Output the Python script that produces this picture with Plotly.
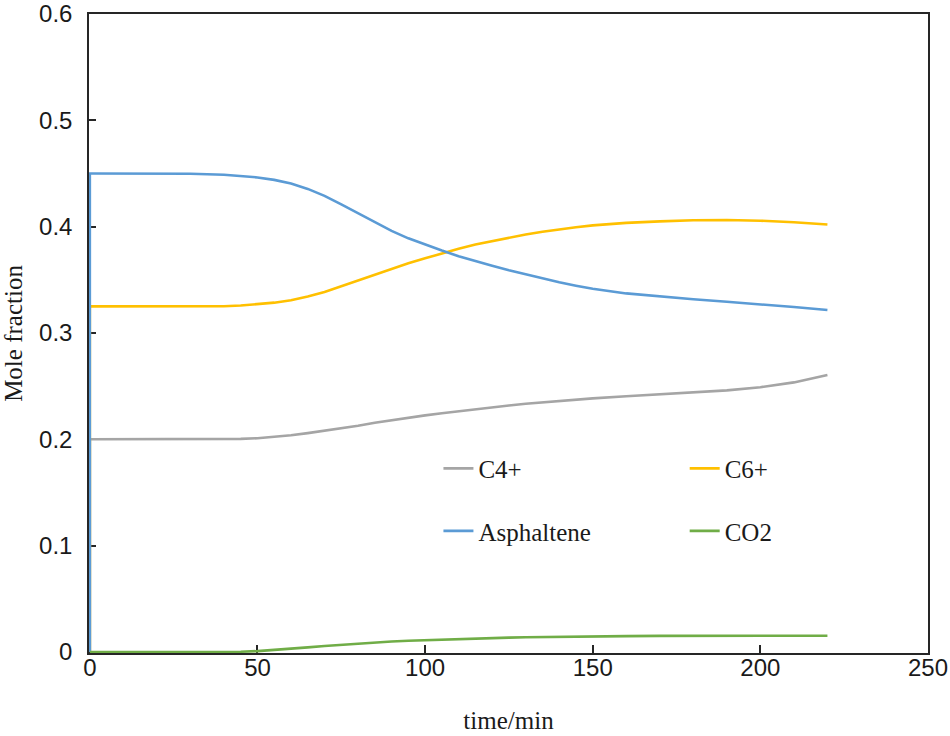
import plotly.graph_objects as go

time = [0, 0, 0.5, 10, 20, 30, 40, 45, 50, 55, 60, 65, 70, 75, 80, 85, 90, 95, 100, 105,
        110, 115, 120, 125, 130, 135, 140, 145, 150, 160, 170, 180, 190, 200, 210, 220]
c4 = [0, 0.200, 0.200, 0.200, 0.200, 0.200, 0.200, 0.2004, 0.201, 0.2022, 0.2038, 0.2058,
      0.208, 0.2105, 0.2128, 0.2155, 0.218, 0.2205, 0.2225, 0.2245, 0.2265, 0.2285,
      0.2302, 0.2318, 0.2335, 0.2348, 0.236, 0.2373, 0.2385, 0.2405, 0.2422, 0.2437,
      0.246, 0.249, 0.2535, 0.2605]
c6 = [0, 0.325, 0.325, 0.325, 0.325, 0.325, 0.3252, 0.3258, 0.3268, 0.3285, 0.3308, 0.3342,
      0.3385, 0.3440, 0.3495, 0.3550, 0.3603, 0.3655, 0.3702, 0.3748, 0.3792, 0.3832,
      0.3866, 0.3898, 0.3927, 0.3952, 0.3975, 0.3995, 0.4012, 0.4035, 0.4050, 0.4060,
      0.4062, 0.4056, 0.4041, 0.4020]
asph = [0, 0.450, 0.450, 0.450, 0.450, 0.4498, 0.4488, 0.4478, 0.4463, 0.4440, 0.4405, 0.4355,
        0.4290, 0.4210, 0.4125, 0.4040, 0.3960, 0.3890, 0.3830, 0.3775, 0.3722, 0.3675,
        0.3632, 0.3590, 0.3550, 0.3512, 0.3477, 0.3445, 0.3416, 0.3372, 0.3342, 0.3317,
        0.3293, 0.3270, 0.3244, 0.3216]
co2 = [0, 0, 0, 0, 0, 0, 0, 0.0002, 0.0008, 0.0018, 0.003, 0.0043, 0.0056, 0.0068, 0.0079,
       0.0089, 0.0098, 0.0105, 0.0111, 0.0117, 0.0122, 0.0127, 0.0131, 0.0135, 0.0138,
       0.0141, 0.0143, 0.0145, 0.0147, 0.0149, 0.0151, 0.0152, 0.0152, 0.0152, 0.0152,
       0.0152]

series = [
    ("C4+", c4, "#A5A5A5", "legend"),
    ("C6+", c6, "#FFC000", "legend2"),
    ("Asphaltene", asph, "#5B9BD5", "legend"),
    ("CO2", co2, "#70AD47", "legend2"),
]

fig = go.Figure()
for name, ys, col, lg in series:
    fig.add_trace(go.Scatter(x=time, y=ys, mode="lines", name=name,
                             line=dict(color=col, width=2.6),
                             legend=lg, legendgroup=name))

axis_common = dict(showgrid=False, zeroline=False, showline=True, mirror=True,
                   linecolor="#262626", linewidth=1.5, ticks="inside",
                   tickcolor="#262626", tickwidth=1.5, layer="below traces",
                   automargin=False,
                   tickfont=dict(family="Liberation Sans", size=24, color="#1a1a1a"))
title_font = dict(family="Liberation Serif", size=25, color="#1a1a1a")
legend_font = dict(family="Liberation Serif", size=25, color="#1a1a1a")

fig.update_layout(
    width=950, height=736,
    margin=dict(l=89, r=22, t=14, b=83),
    paper_bgcolor="white", plot_bgcolor="white",
    xaxis=dict(range=[-0.25, 250], tickvals=[0, 50, 100, 150, 200, 250], ticklen=8,
               ticklabelstandoff=-8,
               title=dict(text="time/min", font=title_font, standoff=32),
               **axis_common),
    yaxis=dict(range=[-0.001, 0.6], tickvals=[0, 0.1, 0.2, 0.3, 0.4, 0.5, 0.6], ticklen=7,
               ticklabelstandoff=10,
               title=dict(text="Mole fraction", font=title_font, standoff=12),
               **axis_common),
    legend=dict(x=0.4165, y=0.3245, xanchor="left", yanchor="top", tracegroupgap=27,
                bgcolor="rgba(0,0,0,0)", font=legend_font),
    legend2=dict(x=0.710, y=0.3245, xanchor="left", yanchor="top", tracegroupgap=27,
                 bgcolor="rgba(0,0,0,0)", font=legend_font),
)

fig.write_html("out.html")
